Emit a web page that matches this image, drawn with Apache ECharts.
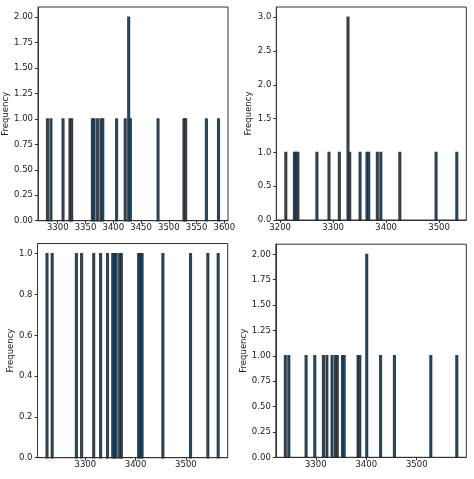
<!DOCTYPE html>
<html>
<head>
<meta charset="utf-8">
<script src="https://cdn.jsdelivr.net/npm/echarts@6/dist/echarts.min.js"></script>
<style>
html,body{margin:0;padding:0;background:#fff;}
#chart{width:474px;height:479px;}
</style>
</head>
<body>
<div id="chart"></div>
<script>
const binCount = 100;

const values1 = [3280, 3288, 3309, 3323, 3325, 3362, 3364, 3372, 3379, 3382, 3406, 3421, 3428, 3428, 3431, 3482, 3528, 3531, 3568, 3591];
const values2 = [3209, 3228, 3231, 3234, 3270, 3293, 3312, 3329, 3329, 3329, 3332, 3351, 3364, 3367, 3384, 3391, 3425, 3495, 3535];
const values3 = [3222, 3235, 3283, 3293, 3317, 3332, 3344, 3354, 3357, 3362, 3368, 3371, 3406, 3409, 3413, 3455, 3510, 3543, 3566];
const values4 = [3238, 3247, 3281, 3299, 3316, 3322, 3332, 3340, 3343, 3352, 3356, 3384, 3387, 3401, 3401, 3430, 3456, 3528, 3581];

// tick labels
const xTicks1 = [3300, 3350, 3400, 3450, 3500, 3550, 3600];
const xTicks2 = [3200, 3300, 3400, 3500];
const xTicks3 = [3300, 3400, 3500];
const xTicks4 = [3300, 3400, 3500];
const yTicks1 = [0, 0.25, 0.5, 0.75, 1, 1.25, 1.5, 1.75, 2];
const yTicks2 = [0, 0.5, 1, 1.5, 2, 2.5, 3];
const yTicks3 = [0, 0.2, 0.4, 0.6, 0.8, 1];
const yTicks4 = [0, 0.25, 0.5, 0.75, 1, 1.25, 1.5, 1.75, 2];
const yDecimals = [2, 1, 1, 2];
const yLabel = 'Frequency';

// ---- histogram binning (like matplotlib hist, bins=100) ----
function histogram(vals) {
  const lo = Math.min(...vals), hi = Math.max(...vals);
  const w = (hi - lo) / binCount;
  const counts = new Array(binCount).fill(0);
  vals.forEach(v => {
    let i = Math.floor((v - lo) / w);
    if (i >= binCount) i = binCount - 1;
    counts[i]++;
  });
  const out = [];
  counts.forEach((c, i) => { if (c > 0) out.push([lo + i * w, lo + (i + 1) * w, c]); });
  return { bins: out, lo: lo, hi: hi };
}

const allValues = [values1, values2, values3, values4];
const allX = [xTicks1, xTicks2, xTicks3, xTicks4];
const allY = [yTicks1, yTicks2, yTicks3, yTicks4];

// layout (px)
const grids = [
  { left: 38, top: 7, width: 190, height: 213.7 },
  { left: 276.3, top: 7, width: 190, height: 213 },
  { left: 37.5, top: 243.5, width: 190.2, height: 214.2 },
  { left: 275.8, top: 244.2, width: 190.5, height: 213.1 }
];
const nameGaps = [28, 23, 22, 26];
const font = 'DejaVu Sans';
const axisColor = '#333';
const textColor = '#1a1a1a';

const xAxes = [], yAxes = [], series = [];
allValues.forEach((vals, k) => {
  const h = histogram(vals);
  const r = h.hi - h.lo;
  const maxCount = Math.max(...h.bins.map(b => b[2]));
  xAxes.push({
    type: 'value', gridIndex: k,
    min: h.lo - 0.05 * r, max: h.hi + 0.05 * r,
    axisLine: { show: true, lineStyle: { color: axisColor, width: 1 } },
    axisTick: { show: true, length: 3, lineStyle: { color: axisColor }, customValues: allX[k] },
    axisLabel: {
      show: true, customValues: allX[k], fontFamily: font, fontSize: 8.5, color: textColor, margin: 3,
      formatter: v => String(Math.round(v))
    },
    splitLine: { show: false }
  });
  yAxes.push({
    type: 'value', gridIndex: k,
    min: 0, max: maxCount * 1.05,
    name: yLabel, nameLocation: 'middle', nameGap: nameGaps[k], nameRotate: 90,
    nameTextStyle: { fontFamily: font, fontSize: 8.5, color: textColor },
    axisLine: { show: true, lineStyle: { color: axisColor, width: 1 } },
    axisTick: { show: true, length: 3, lineStyle: { color: axisColor }, customValues: allY[k] },
    axisLabel: {
      show: true, customValues: allY[k], fontFamily: font, fontSize: 8.5, color: textColor, margin: 5,
      formatter: v => Number(v).toFixed(yDecimals[k])
    },
    splitLine: { show: false }
  });
  series.push({
    type: 'custom', xAxisIndex: k, yAxisIndex: k,
    data: h.bins,
    encode: { x: [0, 1], y: 2 },
    renderItem: function (params, api) {
      const p0 = api.coord([api.value(0), api.value(2)]);
      const p1 = api.coord([api.value(1), 0]);
      return {
        type: 'rect',
        shape: { x: p0[0], y: p0[1], width: p1[0] - p0[0], height: p1[1] - p0[1] },
        style: { fill: '#1f77b4', stroke: 'rgba(35,40,45,0.85)', lineWidth: 1.4 }
      };
    },
    silent: true
  });
});

const chart = echarts.init(document.getElementById('chart'), null, { renderer: 'canvas' });
chart.setOption({
  backgroundColor: '#fff',
  animation: false,
  grid: grids.map(g => Object.assign({ show: true, borderColor: axisColor, borderWidth: 1, backgroundColor: 'transparent' }, g)),
  xAxis: xAxes,
  yAxis: yAxes,
  series: series
});
</script>
</body>
</html>
